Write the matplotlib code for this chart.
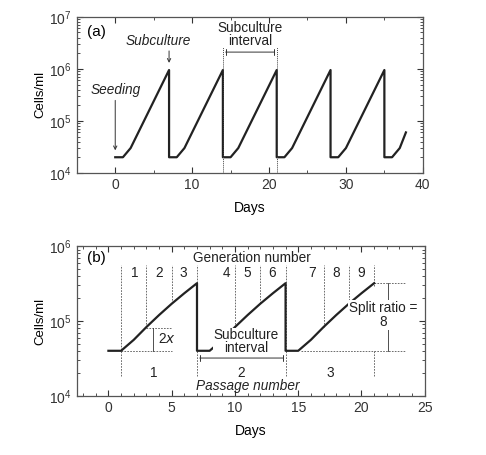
import matplotlib
matplotlib.use("Agg")
import matplotlib.pyplot as plt
from matplotlib.ticker import MultipleLocator, LogLocator, NullFormatter

plt.rcParams["font.family"] = ["Liberation Sans", "DejaVu Sans"]

# panel (a): repeated subculture, 7-day cycle
days_a = [0, 1, 2, 7, 7, 8, 9, 14, 14, 15, 16, 21, 21, 22, 23, 28, 28, 29, 30, 35, 35, 36, 37, 37.8]
cells_a = [2e4, 2e4, 3e4, 9.5e5, 2e4, 2e4, 3e4, 9.5e5, 2e4, 2e4, 3e4, 9.5e5, 2e4, 2e4, 3e4, 9.5e5,
           2e4, 2e4, 3e4, 9.5e5, 2e4, 2e4, 3e4, 6e4]

# panel (b): three passages, split ratio 8
days_b = [0, 1, 2, 3, 4, 5, 6, 7, 7, 8, 9, 10, 11, 12, 13, 14, 14, 15, 16, 17, 18, 19, 20, 21]
cells_b = [4e4, 4e4, 5.6e4, 8.3e4, 1.2e5, 1.7e5, 2.35e5, 3.2e5,
           4e4, 4e4, 5.6e4, 8.3e4, 1.2e5, 1.7e5, 2.35e5, 3.2e5,
           4e4, 4e4, 5.6e4, 8.3e4, 1.2e5, 1.7e5, 2.35e5, 3.2e5]
gen_x = [1, 3, 5, 7, 10, 12, 14, 17, 19, 21]
gen_bottom = [1.85e4, 8.3e4, 1.75e5, 1.85e4, 7.5e4, 1.75e5, 1.85e4, 8.3e4, 1.75e5, 2.9e5]
gen_labels = ["1", "2", "3", "4", "5", "6", "7", "8", "9"]
gen_label_x = [2.1, 4.0, 5.9, 9.3, 11.0, 12.9, 16.1, 18.0, 20.0]
passage_labels = ["1", "2", "3"]
passage_x = [3.6, 10.5, 17.5]

fig = plt.figure(figsize=(4.86, 4.55), dpi=100)
ax1 = fig.add_axes([0.158, 0.620, 0.712, 0.343])
ax2 = fig.add_axes([0.158, 0.130, 0.716, 0.329])

txt = dict(fontsize=9.8, color="#222222")


def style(ax):
    ax.set_yscale("log")
    ax.tick_params(which="both", direction="in", top=True, right=True, labelsize=10, colors="#333333")
    ax.tick_params(which="major", length=4)
    ax.tick_params(which="minor", length=2)
    ax.yaxis.set_minor_locator(LogLocator(base=10, subs=range(2, 10)))
    ax.yaxis.set_minor_formatter(NullFormatter())
    for s in ax.spines.values():
        s.set_color("#555555")
        s.set_linewidth(0.9)
    ax.set_ylabel("Cells/ml", fontsize=9.5, stretch="condensed", labelpad=2)
    ax.set_xlabel("Days", fontsize=10, labelpad=7)


# (a)
ax1.plot(days_a, cells_a, color="#222222", lw=1.6)
ax1.set_xlim(-5, 40)
ax1.set_ylim(1e4, 1e7)
ax1.xaxis.set_major_locator(MultipleLocator(10))
ax1.xaxis.set_minor_locator(MultipleLocator(5))
style(ax1)
ax1.text(-3.7, 5e6, "(a)", fontsize=11, ha="left", va="center")
ax1.text(5.6, 3.5e6, "Subculture", style="italic", ha="center", va="center", **txt)
ax1.annotate("", xy=(7, 1.15e6), xytext=(7, 2.5e6),
             arrowprops=dict(arrowstyle="->", lw=0.7, color="#333333", mutation_scale=6))
ax1.text(0, 4e5, "Seeding", style="italic", ha="center", va="center", **txt)
ax1.annotate("", xy=(0, 2.4e4), xytext=(0, 2.8e5),
             arrowprops=dict(arrowstyle="->", lw=0.7, color="#333333", mutation_scale=6))
ax1.text(17.5, 4.6e6, "Subculture\ninterval", ha="center", va="center", linespacing=0.95, **txt)
for xv in (14, 21):
    ax1.plot([xv, xv], [1e4, 2.6e6], ls=(0, (1, 1)), lw=0.7, color="#444444")
ax1.annotate("", xy=(14, 2.1e6), xytext=(21, 2.1e6),
             arrowprops=dict(arrowstyle="|-|", lw=0.7, color="#333333", mutation_scale=2))

# (b)
ax2.plot(days_b, cells_b, color="#222222", lw=1.6, zorder=3)
ax2.set_xlim(-2.5, 25)
ax2.set_ylim(1e4, 1e6)
ax2.xaxis.set_major_locator(MultipleLocator(5))
ax2.xaxis.set_minor_locator(MultipleLocator(1))
style(ax2)
ax2.text(-1.7, 7e5, "(b)", fontsize=11, ha="left", va="center")
ax2.text(11.3, 7e5, "Generation number", ha="center", va="center", **txt)
dash = dict(ls=(0, (2, 1.5)), lw=0.6, color="#555555")
for xv, yb in zip(gen_x, gen_bottom):
    ax2.plot([xv, xv], [yb, 5.6e5], **dash)
ax2.plot([21, 21], [1.85e4, 4e4], **dash)
for lab, xv in zip(gen_labels, gen_label_x):
    ax2.text(xv, 4.4e5, lab, ha="center", va="center", **txt)
for lab, xv in zip(passage_labels, passage_x):
    ax2.text(xv, 2e4, lab, ha="center", va="center", **txt)
ax2.text(11.0, 1.35e4, "Passage number", style="italic", ha="center", va="center", **txt)

# doubling box
ax2.plot([1, 5], [4e4, 4e4], **dash)
ax2.plot([3, 5], [8e4, 8e4], **dash)
ax2.plot([3.5, 3.5], [4e4, 8e4], lw=0.6, color="#333333")
ax2.text(4.6, 5.7e4, "2$\\it{x}$", ha="center", va="center", **txt)

# subculture interval
ax2.text(10.9, 5.3e4, "Subculture\ninterval", ha="center", va="center", linespacing=0.95, zorder=4,
         bbox=dict(facecolor="white", edgecolor="none", pad=0.2), **txt)
ax2.annotate("", xy=(7, 3.2e4), xytext=(14, 3.2e4),
             arrowprops=dict(arrowstyle="|-|", lw=0.7, color="#333333", mutation_scale=2))

# split ratio
ax2.plot([15.2, 23.5], [4e4, 4e4], **dash)
ax2.plot([21, 23.5], [3.2e5, 3.2e5], **dash)
ax2.plot([22.1, 22.1], [4e4, 3.2e5], lw=0.6, color="#333333")
ax2.text(21.7, 1.2e5, "Split ratio =\n8", ha="center", va="center", linespacing=1.0, zorder=4,
         bbox=dict(facecolor="white", edgecolor="none", pad=0.5), **txt)

fig.savefig("out.png", dpi=100)
